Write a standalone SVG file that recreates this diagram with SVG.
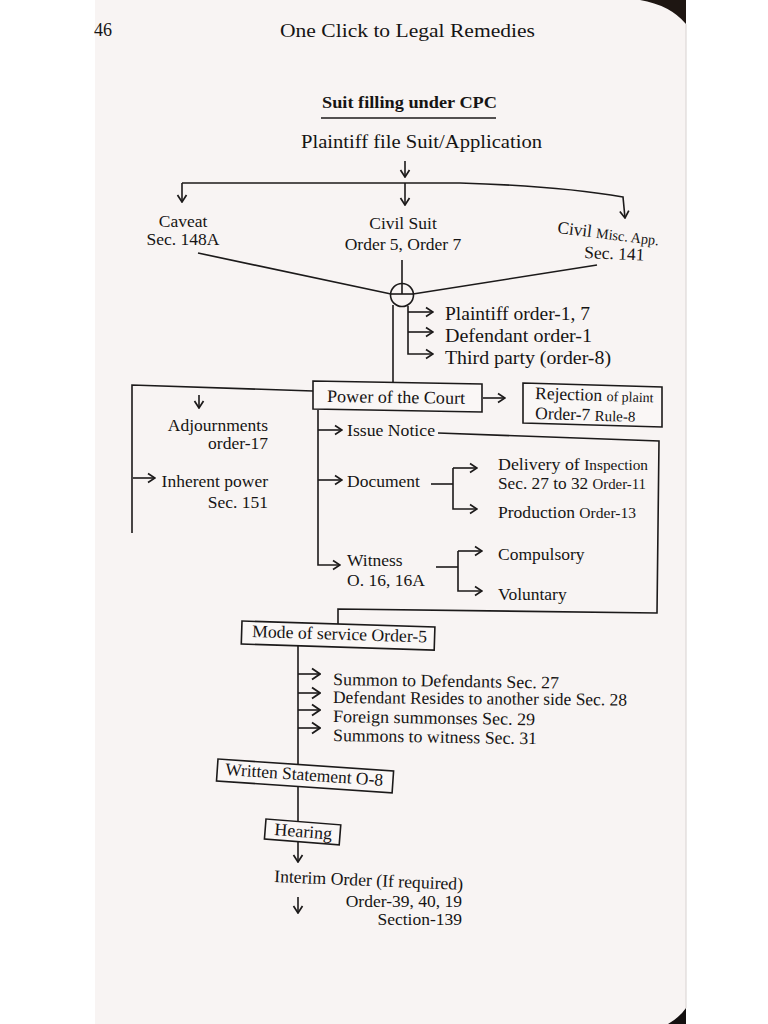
<svg xmlns="http://www.w3.org/2000/svg" width="768" height="1024" viewBox="0 0 768 1024">
<style>
.t{font-family:"Liberation Serif","Times New Roman",serif;fill:#161414;font-size:17.5px}
.p{font-family:"Liberation Serif","Times New Roman",serif;fill:#161414;font-size:18px}
.b{font-weight:bold}
.m{text-anchor:middle}
.e{text-anchor:end}
.ln{stroke:#1c1a1a;stroke-width:1.6;fill:none}
.bx{stroke:#1c1a1a;stroke-width:1.6;fill:#faf7f6}
</style>
<defs>
<marker id="ah" viewBox="0 0 12 12" refX="11" refY="6" markerWidth="12" markerHeight="12" markerUnits="userSpaceOnUse" orient="auto">
<path d="M4,1.5 L11,6 L4,10.5" fill="none" stroke="#1c1a1a" stroke-width="1.7"/>
</marker>
<marker id="ahb" viewBox="0 0 14 14" refX="13" refY="7" markerWidth="14" markerHeight="14" markerUnits="userSpaceOnUse" orient="auto">
<path d="M5,1.5 L13,7 L5,12.5" fill="none" stroke="#1c1a1a" stroke-width="1.8"/>
</marker>
</defs>
<rect x="0" y="0" width="768" height="1024" fill="#ffffff"/>
<rect x="95" y="0" width="591" height="1024" fill="#f8f4f3"/>
<path d="M640,0 Q670,5 686,24 L686,0 Z" fill="#1e1612"/>
<path d="M668,1024 Q680,1017 686,1008 L686,1024 Z" fill="#141010"/>
<line x1="686" y1="24" x2="686" y2="1008" stroke="#d8d2d0" stroke-width="1"/>

<g id="header">
<text class="p" x="94" y="36" font-size="17">46</text>
<text class="p" x="280" y="37" font-size="20" textLength="255" lengthAdjust="spacingAndGlyphs">One Click to Legal Remedies</text>
</g>

<g id="title">
<text class="t b" x="322" y="108" font-size="16" textLength="175" lengthAdjust="spacingAndGlyphs">Suit filling under CPC</text>
<line class="ln" x1="321" y1="118" x2="496" y2="118" stroke-width="1.4"/>
</g>

<g id="plaintiff">
<text class="p" x="301" y="148" textLength="241" lengthAdjust="spacingAndGlyphs">Plaintiff file Suit/Application</text>
</g>

<g id="caveat">
<text class="t m" x="183" y="227">Caveat</text>
<text class="t m" x="183" y="245">Sec. 148A</text>
</g>

<g id="civil-suit">
<text class="t m" x="403" y="229" font-size="18">Civil Suit</text>
<text class="t m" x="403" y="250" font-size="18">Order 5, Order 7</text>
</g>

<g id="civil-misc">
<text class="t" x="557" y="233" transform="rotate(7 557 233)" textLength="102" lengthAdjust="spacingAndGlyphs">Civil <tspan font-size="14.5">Misc. App.</tspan></text>
<text class="t" x="584" y="258" transform="rotate(2.5 584 258)" font-size="16">Sec. 141</text>
</g>

<g id="junction">
<circle cx="402" cy="295" r="11.5" fill="none" stroke="#1c1a1a" stroke-width="1.6"/>
</g>

<g id="parties">
<text class="p" x="445" y="320" textLength="145" lengthAdjust="spacingAndGlyphs">Plaintiff order-1, 7</text>
<text class="p" x="445" y="342" textLength="147" lengthAdjust="spacingAndGlyphs">Defendant order-1</text>
<text class="p" x="445" y="364" textLength="166" lengthAdjust="spacingAndGlyphs">Third party (order-8)</text>
</g>

<g id="power-court">
<polygon class="bx" points="313,381 482,384 482,412 313,409"/>
<text class="t" x="327" y="402" font-size="18" transform="rotate(0.8 327 402)" textLength="138" lengthAdjust="spacingAndGlyphs">Power of the Court</text>
</g>

<g id="rejection">
<polygon class="bx" points="523,383 662,387 662,427 523,423"/>
<text class="t" x="535" y="399" transform="rotate(1.6 535 399)">Rejection <tspan font-size="14">of plaint</tspan></text>
<text class="t" x="535" y="419" transform="rotate(1.6 535 419)">Order-7 <tspan font-size="15">Rule-8</tspan></text>
</g>

<g id="adjournments">
<text class="t e" x="268" y="431">Adjournments</text>
<text class="t e" x="268" y="449">order-17</text>
</g>

<g id="inherent">
<text class="t e" x="268" y="487">Inherent power</text>
<text class="t e" x="268" y="508">Sec. 151</text>
</g>

<g id="issue-notice">
<text class="t" x="347" y="436" textLength="88" lengthAdjust="spacingAndGlyphs">Issue Notice</text>
</g>

<g id="document">
<text class="t" x="347" y="487" textLength="73" lengthAdjust="spacingAndGlyphs">Document</text>
</g>

<g id="delivery">
<text class="t" x="498" y="470" textLength="150" lengthAdjust="spacingAndGlyphs">Delivery of <tspan font-size="15">Inspection</tspan></text>
<text class="t" x="498" y="489" textLength="148" lengthAdjust="spacingAndGlyphs">Sec. 27 to 32 <tspan font-size="15">Order-11</tspan></text>
</g>

<g id="production">
<text class="t" x="498" y="518" textLength="138" lengthAdjust="spacingAndGlyphs">Production <tspan font-size="15.5">Order-13</tspan></text>
</g>

<g id="witness">
<text class="t" x="347" y="566">Witness</text>
<text class="t" x="347" y="586">O. 16, 16A</text>
</g>

<g id="compulsory">
<text class="t" x="498" y="560">Compulsory</text>
</g>

<g id="voluntary">
<text class="t" x="498" y="600">Voluntary</text>
</g>

<g id="mode-service">
<rect class="bx" x="242" y="621" width="193" height="23" transform="rotate(1.8 242 621)"/>
<text class="t" x="252" y="637" font-size="17" transform="rotate(1.8 252 637)" textLength="175" lengthAdjust="spacingAndGlyphs">Mode of service Order-5</text>
</g>

<g id="summons">
<text class="t" x="333" y="685" transform="rotate(0.9 333 685)" textLength="226" lengthAdjust="spacingAndGlyphs">Summon to Defendants Sec. 27</text>
<text class="t" x="333" y="703" transform="rotate(0.5 333 703)" textLength="294" lengthAdjust="spacingAndGlyphs">Defendant Resides to another side Sec. 28</text>
<text class="t" x="333" y="722" transform="rotate(0.9 333 722)" textLength="202" lengthAdjust="spacingAndGlyphs">Foreign summonses Sec. 29</text>
<text class="t" x="333" y="741" transform="rotate(0.9 333 741)" textLength="204" lengthAdjust="spacingAndGlyphs">Summons to witness Sec. 31</text>
</g>

<g id="written-statement">
<rect class="bx" x="218" y="759" width="176" height="22" transform="rotate(3.9 218 759)"/>
<text class="t" x="225" y="775" font-size="16.5" transform="rotate(3.9 225 775)" textLength="158" lengthAdjust="spacingAndGlyphs">Written Statement O-8</text>
</g>

<g id="hearing">
<rect class="bx" x="266" y="819" width="75" height="20" transform="rotate(4.5 266 819)"/>
<text class="t" x="274" y="835" transform="rotate(4.5 274 835)" textLength="58" lengthAdjust="spacingAndGlyphs">Hearing</text>
</g>

<g id="interim">
<text class="t" x="274" y="882" transform="rotate(2.4 274 882)" font-size="17" textLength="189" lengthAdjust="spacingAndGlyphs">Interim Order (If required)</text>
<text class="t e" x="462" y="907" font-size="17">Order-39, 40, 19</text>
<text class="t e" x="462" y="925" font-size="17">Section-139</text>
</g>

<g id="connectors">
<path class="ln" d="M405,161 L405,177" marker-end="url(#ah)"/>
<path class="ln" d="M182,183 L460,183 Q560,186 623,197 L625,218" marker-end="url(#ah)"/>
<path class="ln" d="M182,183 L182,202" marker-end="url(#ah)"/>
<path class="ln" d="M405,183 L405,205" marker-end="url(#ah)"/>
<path class="ln" d="M198,253 L391,294"/>
<path class="ln" d="M391,294 L413,294"/>
<path class="ln" d="M413,294 L597,265"/>
<path class="ln" d="M402,260 L402,294"/>
<path class="ln" d="M393,305 L393,382"/>
<path class="ln" d="M408,306 L408,354 L433,354" marker-end="url(#ah)"/>
<path class="ln" d="M408,312 L433,312" marker-end="url(#ah)"/>
<path class="ln" d="M408,332 L433,332" marker-end="url(#ah)"/>
<path class="ln" d="M313,391 L132,385 L132,533"/>
<path class="ln" d="M199,395 L199,408" marker-end="url(#ah)"/>
<path class="ln" d="M133,478 L155,478" marker-end="url(#ah)"/>
<path class="ln" d="M483,398 L505,398" marker-end="url(#ah)"/>
<path class="ln" d="M318,410 L318,565 L340,565" marker-end="url(#ah)"/>
<path class="ln" d="M318,430 L342,430" marker-end="url(#ah)"/>
<path class="ln" d="M318,480 L342,480" marker-end="url(#ah)"/>
<path class="ln" d="M431,484 L453,484"/>
<path class="ln" d="M453,468 L453,509 L477,509" marker-end="url(#ah)"/>
<path class="ln" d="M453,468 L477,468" marker-end="url(#ah)"/>
<path class="ln" d="M436,567 L458,567"/>
<path class="ln" d="M458,551 L458,591 L482,591" marker-end="url(#ah)"/>
<path class="ln" d="M458,551 L482,551" marker-end="url(#ah)"/>
<path class="ln" d="M438,433 L659,441 L657,613 L338,609 L338,624"/>
<path class="ln" d="M298,645 L298,765"/>
<path class="ln" d="M298,674 L320,674" marker-end="url(#ahb)"/>
<path class="ln" d="M298,693 L320,693" marker-end="url(#ahb)"/>
<path class="ln" d="M298,710 L320,710" marker-end="url(#ahb)"/>
<path class="ln" d="M298,728 L320,728" marker-end="url(#ahb)"/>
<path class="ln" d="M298,787 L298,822"/>
<path class="ln" d="M298,842 L298,862" marker-end="url(#ah)"/>
<path class="ln" d="M298,897 L298,913" marker-end="url(#ah)"/>
</g>
</svg>
